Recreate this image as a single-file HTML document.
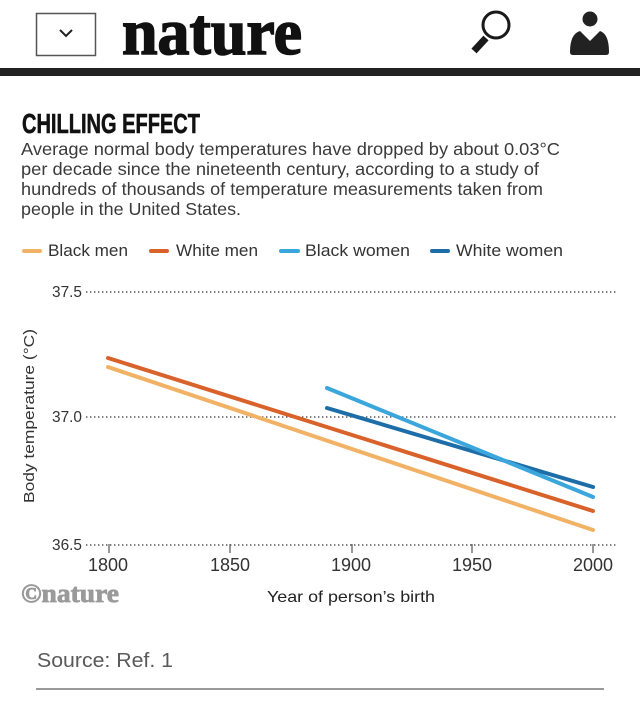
<!DOCTYPE html>
<html><head><meta charset="utf-8"><style>
html,body{margin:0;padding:0;background:#fff;}
svg{display:block;}
</style></head><body>
<svg width="640" height="728" viewBox="0 0 640 728" xmlns="http://www.w3.org/2000/svg" font-family="'Liberation Sans', sans-serif">
<rect x="0" y="0" width="640" height="728" fill="#fff"/>
<!-- header -->
<rect x="36.5" y="13.5" width="59" height="42" fill="none" stroke="#555" stroke-width="1.5"/>
<polyline points="60,30 66,36 72,30" fill="none" stroke="#222" stroke-width="2"/>
<text x="122" y="54" font-family="'Liberation Serif', serif" font-weight="bold" font-size="66" textLength="180" lengthAdjust="spacingAndGlyphs" fill="#111" stroke="#111" stroke-width="1.6">nature</text>
<circle cx="496" cy="25" r="13" fill="none" stroke="#1a1a1a" stroke-width="3"/>
<line x1="474" y1="51" x2="486" y2="38" stroke="#1a1a1a" stroke-width="7"/>
<circle cx="590" cy="19" r="7.5" fill="#222"/>
<path d="M570,52 Q570,34 580,31 L590,41 L600,31 Q609,34 609,52 Q609,55 606,55 L573,55 Q570,55 570,52 Z" fill="#222"/>
<rect x="0" y="68" width="640" height="8" fill="#222"/>

<!-- title -->
<text x="22" y="133" font-weight="bold" font-size="28" textLength="178" lengthAdjust="spacingAndGlyphs" fill="#111" stroke="#111" stroke-width="0.6">CHILLING EFFECT</text>
<g font-size="17.5" fill="#3a3a3a">
<text x="21" y="155" textLength="539" lengthAdjust="spacingAndGlyphs">Average normal body temperatures have dropped by about 0.03°C</text>
<text x="21" y="175" textLength="518" lengthAdjust="spacingAndGlyphs">per decade since the nineteenth century, according to a study of</text>
<text x="21" y="195" textLength="522" lengthAdjust="spacingAndGlyphs">hundreds of thousands of temperature measurements taken from</text>
<text x="21" y="215" textLength="220" lengthAdjust="spacingAndGlyphs">people in the United States.</text>
</g>

<!-- legend -->
<g stroke-width="4" stroke-linecap="round">
<line x1="24" y1="251" x2="40" y2="251" stroke="#f2b266"/>
<line x1="151" y1="251" x2="167" y2="251" stroke="#d9622b"/>
<line x1="281" y1="251" x2="298" y2="251" stroke="#3aa6dc"/>
<line x1="432" y1="251" x2="448" y2="251" stroke="#1d6ea8"/>
</g>
<g font-size="17" fill="#333">
<text x="48" y="256" textLength="80" lengthAdjust="spacingAndGlyphs">Black men</text>
<text x="176" y="256" textLength="82" lengthAdjust="spacingAndGlyphs">White men</text>
<text x="305" y="256" textLength="105" lengthAdjust="spacingAndGlyphs">Black women</text>
<text x="456" y="256" textLength="107" lengthAdjust="spacingAndGlyphs">White women</text>
</g>

<!-- gridlines -->
<g stroke="#555" stroke-width="1.4" stroke-dasharray="1.4 2.6">
<line x1="86" y1="292" x2="616" y2="292"/>
<line x1="86" y1="417" x2="616" y2="417"/>
<line x1="86" y1="545" x2="616" y2="545"/>
</g>
<g font-size="16" fill="#333" text-anchor="end">
<text x="82" y="297" textLength="30" lengthAdjust="spacingAndGlyphs">37.5</text>
<text x="82" y="422" textLength="30" lengthAdjust="spacingAndGlyphs">37.0</text>
<text x="82" y="550" textLength="30" lengthAdjust="spacingAndGlyphs">36.5</text>
</g>
<!-- ticks -->
<g stroke="#555" stroke-width="1.2">
<line x1="109" y1="544" x2="109" y2="553"/>
<line x1="230" y1="544" x2="230" y2="553"/>
<line x1="352" y1="544" x2="352" y2="553"/>
<line x1="472" y1="544" x2="472" y2="553"/>
<line x1="593" y1="544" x2="593" y2="553"/>
</g>
<g font-size="18" fill="#333" text-anchor="middle">
<text x="108" y="571">1800</text>
<text x="230" y="571">1850</text>
<text x="351" y="571">1900</text>
<text x="472" y="571">1950</text>
<text x="593" y="571">2000</text>
</g>
<text x="351" y="602" font-size="16" fill="#222" text-anchor="middle" textLength="168" lengthAdjust="spacingAndGlyphs">Year of person’s birth</text>
<text transform="translate(34,416) rotate(-90)" x="0" y="0" font-size="15" fill="#333" text-anchor="middle" textLength="174" lengthAdjust="spacingAndGlyphs">Body temperature (°C)</text>

<!-- data lines -->
<g stroke-width="4" stroke-linecap="round" fill="none">
<line x1="108" y1="367" x2="593" y2="530" stroke="#f2b266"/>
<line x1="108" y1="358" x2="593" y2="511" stroke="#d9622b"/>
<line x1="327" y1="408" x2="593" y2="487" stroke="#1d6ea8"/>
<line x1="327" y1="388" x2="593" y2="497" stroke="#3aa6dc"/>
</g>

<text x="21" y="602" font-family="'Liberation Serif', serif" font-weight="bold" font-size="26" fill="#9a9a9a" stroke="#9a9a9a" stroke-width="0.8" textLength="98" lengthAdjust="spacingAndGlyphs">©nature</text>

<!-- source -->
<text x="37" y="667" font-size="20" fill="#5a5a5a" textLength="136" lengthAdjust="spacingAndGlyphs">Source: Ref. 1</text>
<line x1="36" y1="689" x2="604" y2="689" stroke="#999" stroke-width="2"/>
</svg>
</body></html>
